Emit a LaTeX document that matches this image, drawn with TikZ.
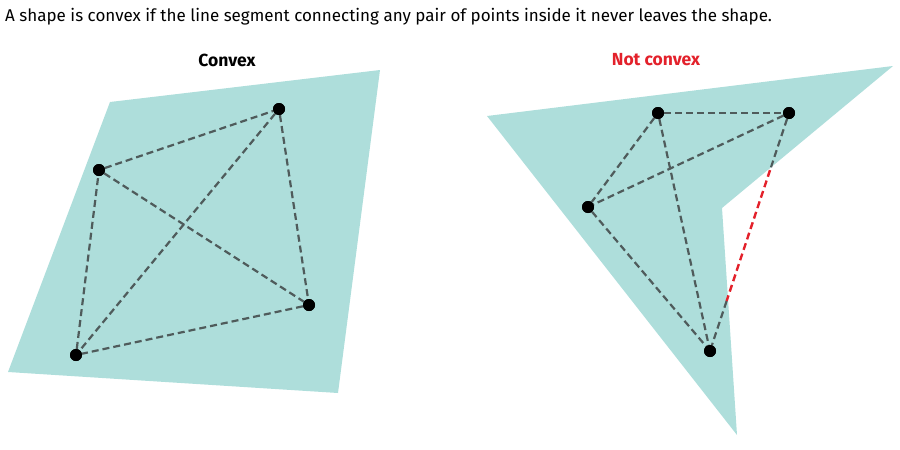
\documentclass[tikz,border=0pt]{standalone}
\usepackage{fontspec}
\setmainfont{Fira Sans}
\usepackage{tikz}
\usetikzlibrary{calc}
\definecolor{shapeTeal}{HTML}{AEDEDB}
\definecolor{dashGray}{HTML}{4F5B5B}
\definecolor{notRed}{HTML}{E3212B}
\tikzset{
	segment/.style={dashGray, line width=2.2pt, dash pattern=on 7pt off 4pt},
	badsegment/.style={notRed, line width=2.4pt, dash pattern=on 7pt off 4pt},
	pt/.style={circle, fill=black, inner sep=0pt, minimum size=12pt},
	heading/.style={font=\bfseries\fontsize{17.5}{20}\selectfont, anchor=center}
}
\begin{document}
\begin{tikzpicture}[x=1pt, y=-1pt]
	\useasboundingbox (0,0) rectangle (900,450);
	\node[anchor=west, inner sep=0pt, font=\fontsize{17}{20}\selectfont] (title) at (5,17)
		{A shape is convex if the line segment connecting any pair of points inside it never leaves the shape.};
	% convex shape
	\fill[shapeTeal] (110,102) -- (380,70) -- (338,393) -- (8,372) -- cycle;
	\node[heading] (convex) at (227,60) {Convex};
	\node[pt] (a) at (99,170) {};
	\node[pt] (b) at (279,109) {};
	\node[pt] (c) at (309,305) {};
	\node[pt] (d) at (76,355) {};
	\foreach \u/\v in {a/b, b/c, c/d, d/a, a/c, b/d}
		\draw[segment] (\u) -- (\v);
	% not convex shape
	\fill[shapeTeal] (487,116) -- (893,66) -- (722,208) -- (737,435) -- cycle;
	\node[heading, notRed] (notconvex) at (656,60) {Not convex};
	\node[pt] (e) at (658,113) {};
	\node[pt] (f) at (789,113) {};
	\node[pt] (g) at (588,207) {};
	\node[pt] (h) at (710,351) {};
	\foreach \u/\v in {e/f, e/g, f/g, e/h, g/h}
		\draw[segment] (\u) -- (\v);
	\coordinate (out1) at ($(f)!0.24!(h)$);
	\coordinate (out2) at ($(f)!0.79!(h)$);
	\draw[segment] (f) -- (out1);
	\draw[segment] (out2) -- (h);
	\draw[badsegment] (out1) -- (out2);
	\foreach \n in {a,b,c,d,e,f,g,h}
		\node[pt] at (\n) {};
\end{tikzpicture}
\end{document}
